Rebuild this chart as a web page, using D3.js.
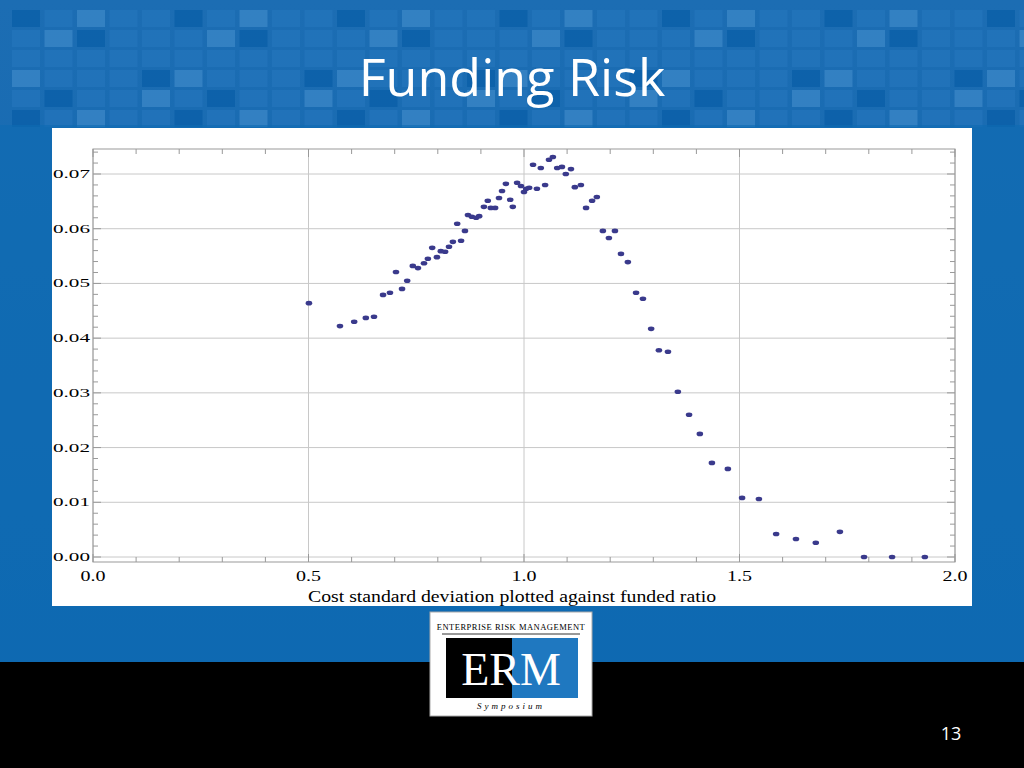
<!DOCTYPE html>
<html><head><meta charset="utf-8">
<script src="https://cdn.jsdelivr.net/npm/d3@7"></script>
<style>body{margin:0;}svg{display:block}</style></head>
<body><svg id="c" width="1024" height="768"></svg>
<script>
const xVals=[0.501,0.573,0.606,0.633,0.652,0.673,0.689,0.703,0.717,0.729,0.742,0.754,0.768,0.777,0.787,0.798,0.807,0.817,0.826,0.835,0.845,0.854,0.863,0.870,0.879,0.889,0.896,0.907,0.916,0.923,0.933,0.942,0.949,0.958,0.968,0.974,0.984,0.993,1.000,1.005,1.012,1.021,1.030,1.039,1.049,1.058,1.067,1.077,1.088,1.097,1.109,1.118,1.132,1.144,1.158,1.169,1.183,1.197,1.211,1.225,1.241,1.260,1.276,1.295,1.313,1.334,1.357,1.383,1.408,1.436,1.473,1.506,1.545,1.585,1.631,1.677,1.733,1.789,1.854,1.930];
const yVals=[0.0464,0.0422,0.0430,0.0437,0.0439,0.0479,0.0483,0.0521,0.0490,0.0505,0.0532,0.0528,0.0537,0.0545,0.0565,0.0548,0.0559,0.0558,0.0567,0.0576,0.0609,0.0578,0.0596,0.0625,0.0622,0.0620,0.0623,0.0640,0.0651,0.0638,0.0638,0.0656,0.0669,0.0682,0.0653,0.0640,0.0684,0.0678,0.0667,0.0673,0.0675,0.0717,0.0673,0.0711,0.0680,0.0726,0.0731,0.0711,0.0713,0.0700,0.0709,0.0676,0.0680,0.0638,0.0651,0.0658,0.0596,0.0583,0.0596,0.0554,0.0539,0.0483,0.0472,0.0417,0.0378,0.0375,0.0302,0.0260,0.0225,0.0172,0.0161,0.0108,0.0106,0.0042,0.0033,0.0026,0.0046,0.0,0.0,0.0];
const xTicks=[0,0.5,1.0,1.5,2.0];
const yTicks=[0,0.01,0.02,0.03,0.04,0.05,0.06,0.07];
const title="Funding Risk", xLabel="Cost standard deviation plotted against funded ratio";

const svg=d3.select("#c");
const bg=svg.append("defs").append("linearGradient").attr("id","bg").attr("x1",0).attr("y1",0).attr("x2",0).attr("y2",1);
bg.append("stop").attr("offset","0").attr("stop-color","#1c6db3");
bg.append("stop").attr("offset","1").attr("stop-color","#0e67b0");
svg.append("rect").attr("width",1024).attr("height",768).attr("fill","url(#bg)");
const cells=[];
for(let r=0;r<6;r++)for(let c=0;c<40;c++){const v=(r*7+c*13+r*c)%5;cells.push({r,c,v});}
svg.append("g").selectAll("rect").data(cells).join("rect")
 .attr("x",d=>12+d.c*32.5).attr("y",d=>10+d.r*20).attr("width",28).attr("height",17)
 .attr("fill",d=>d.v==0?"#0a5fa8":d.v==1?"#3a86c6":"#2374ba").attr("opacity",0.8);
svg.append("rect").attr("y",125).attr("width",1024).attr("height",540).attr("fill","#0e6ab2").attr("opacity",0.6);
svg.append("rect").attr("y",662).attr("width",1024).attr("height",106).attr("fill","#000");
svg.append("text").attr("x",512).attr("y",96).attr("text-anchor","middle").attr("fill","#fff")
 .attr("font-family","Open Sans, Liberation Sans, sans-serif").attr("font-size",52).text(title);
svg.append("rect").attr("x",52).attr("y",128).attr("width",920).attr("height",478).attr("fill","#fff");
const x=d3.scaleLinear().domain([0,2]).range([93,955]);
const y=d3.scaleLinear().domain([0,0.07]).range([557,174]);
const pTop=149,pBot=562;
const g=svg.append("g");
g.selectAll(".vg").data(xTicks).join("line").attr("x1",d=>x(d)).attr("x2",d=>x(d)).attr("y1",pTop).attr("y2",pBot).attr("stroke","#c8c8c8");
g.selectAll(".hg").data(yTicks).join("line").attr("y1",d=>y(d)).attr("y2",d=>y(d)).attr("x1",93).attr("x2",955).attr("stroke","#c8c8c8");
g.append("rect").attr("x",93).attr("y",pTop).attr("width",862).attr("height",pBot-pTop).attr("fill","none").attr("stroke","#999");
const mx=d3.range(0,2.001,0.1), my=d3.range(0,0.0741,0.002);
const isMajX=d=>Math.abs(d*2-Math.round(d*2))<1e-6, isMajY=d=>Math.abs(d*100-Math.round(d*100))<1e-6;
g.selectAll(".mt").data(mx).join("line").attr("x1",d=>x(d)).attr("x2",d=>x(d)).attr("y1",pBot).attr("y2",d=>pBot-(isMajX(d)?8:5)).attr("stroke","#999");
g.selectAll(".mt2").data(mx).join("line").attr("x1",d=>x(d)).attr("x2",d=>x(d)).attr("y1",pTop).attr("y2",d=>pTop+(isMajX(d)?8:5)).attr("stroke","#999");
g.selectAll(".my").data(my).join("line").attr("y1",d=>y(d)).attr("y2",d=>y(d)).attr("x1",93).attr("x2",d=>93+(isMajY(d)?8:5)).attr("stroke","#999");
g.selectAll(".my2").data(my).join("line").attr("y1",d=>y(d)).attr("y2",d=>y(d)).attr("x1",955).attr("x2",d=>955-(isMajY(d)?8:5)).attr("stroke","#999");
const ff="Liberation Serif, Times New Roman, serif";
g.selectAll(".xl").data(xTicks).join("text").attr("class","xl").attr("x",d=>x(d)).attr("y",581).attr("text-anchor","middle").attr("font-family",ff).attr("font-size",14).attr("textLength",25).attr("lengthAdjust","spacingAndGlyphs").text(d=>d.toFixed(1));
g.selectAll(".yl").data(yTicks).join("text").attr("class","yl").attr("x",90).attr("y",d=>y(d)+4).attr("text-anchor","end").attr("font-family",ff).attr("font-size",13).attr("textLength",37).attr("lengthAdjust","spacingAndGlyphs").text(d=>d.toFixed(2));
g.append("text").attr("x",512).attr("y",602).attr("text-anchor","middle").attr("font-family",ff).attr("font-size",16).attr("textLength",408).attr("lengthAdjust","spacingAndGlyphs").text(xLabel);
g.selectAll("ellipse").data(xVals.map((v,i)=>[v,yVals[i]])).join("ellipse").attr("cx",d=>x(d[0])).attr("cy",d=>y(d[1])).attr("rx",3.3).attr("ry",2.3).attr("fill","#3a3a8c");
const L=svg.append("g");
L.append("rect").attr("x",430).attr("y",612).attr("width",162).attr("height",104).attr("fill","#fff").attr("stroke","#aaa");
L.append("text").attr("x",511).attr("y",630).attr("text-anchor","middle").attr("font-family",ff).attr("font-size",8.5).attr("letter-spacing",0.5).text("ENTERPRISE RISK MANAGEMENT");
L.append("line").attr("x1",442).attr("x2",580).attr("y1",634).attr("y2",634).attr("stroke","#333");
L.append("rect").attr("x",446).attr("y",638).attr("width",66).attr("height",60).attr("fill","#000");
L.append("rect").attr("x",512).attr("y",638).attr("width",66).attr("height",60).attr("fill","#1f78c0");
L.append("text").attr("x",511).attr("y",685).attr("text-anchor","middle").attr("font-family",ff).attr("font-size",46).attr("fill","#fff").text("ERM");
L.append("text").attr("x",511).attr("y",709).attr("text-anchor","middle").attr("font-family",ff).attr("font-style","italic").attr("font-size",9).attr("letter-spacing",3).text("Symposium");
svg.append("text").attr("x",951).attr("y",740).attr("text-anchor","middle").attr("fill","#fff").attr("font-family","Open Sans, sans-serif").attr("font-size",18).text("13");
</script></body></html>
